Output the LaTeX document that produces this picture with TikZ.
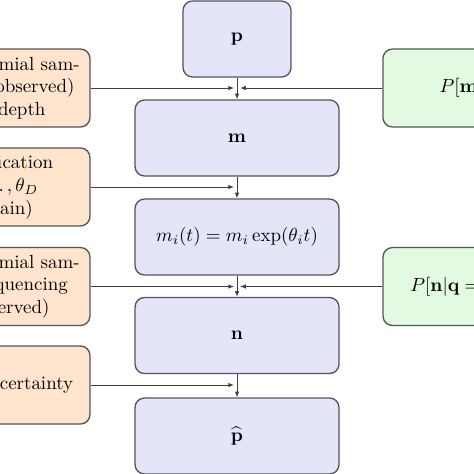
\documentclass[tikz,border=0pt]{standalone}
\usepackage{amsmath}
\usepackage{amssymb}
\usetikzlibrary{calc,arrows.meta}

\definecolor{stepfill}{RGB}{229,229,250}
\definecolor{inputfill}{RGB}{255,229,206}
\definecolor{lawfill}{RGB}{226,250,226}
\definecolor{edgegray}{RGB}{85,85,85}

\tikzset{
  stepbox/.style={draw=edgegray, fill=stepfill, rounded corners=5pt, line width=0.7pt,
    minimum width=3.78cm, minimum height=1.408cm},
  inbox/.style={draw=edgegray, fill=inputfill, rounded corners=5pt, line width=0.7pt,
    minimum width=3.446cm, minimum height=1.445cm, align=center},
  lawbox/.style={draw=edgegray, fill=lawfill, rounded corners=5pt, line width=0.7pt,
    minimum width=3.224cm, minimum height=1.445cm, align=center},
  flow/.style={-{Latex[length=3pt,width=2.4pt]}, draw=black!75, line width=0.5pt}
}

\begin{document}
\begin{tikzpicture}
  \useasboundingbox (0,0) rectangle (8.783,-8.783);
  \clip (0,0) rectangle (8.783,-8.783);

  % main chain
  \node[stepbox, minimum width=2.0cm] (p) at (4.392,-0.723) {$\mathbf{p}$};
  \node[stepbox] (m) at (4.392,-2.557) {$\mathbf{m}$};
  \node[stepbox] (mt) at (4.392,-4.392) {$m_i(t) = m_i \exp(\theta_i t)$};
  \node[stepbox] (n) at (4.392,-6.217) {$\mathbf{n}$};
  \node[stepbox] (ph) at (4.392,-8.079) {$\widehat{\mathbf{p}}$};

  % inputs on the left
  \node[inbox] (l1) at (-0.056,-1.631) {A multinomial sam-\\pling (unobserved)\\given depth};
  \node[inbox] (l2) at (-0.056,-3.465) {Amplification\\$\theta_1,\ldots,\theta_D$\\(certain)};
  \node[inbox] (l3) at (-0.056,-5.309) {A multinomial sam-\\pling, sequencing\\$\mathbf{n}$ (observed)};
  \node[inbox] (l4) at (-0.056,-7.134) {Model uncertainty};

  % laws on the right
  \node[lawbox] (r1) at (8.709,-1.631) {$P[\mathbf{m}|\mathbf{p}]$};
  \node[lawbox] (r2) at (8.709,-5.309) {$P[\mathbf{n}|\mathbf{q} = \mathbf{m}(t)]$};

  % junctions
  \coordinate (j1) at ($(p.south)!0.5!(m.north)$);
  \coordinate (j2) at ($(m.south)!0.5!(mt.north)$);
  \coordinate (j3) at ($(mt.south)!0.5!(n.north)$);
  \coordinate (j4) at ($(n.south)!0.5!(ph.north)$);

  \draw[flow] (p) -- (m);
  \draw[flow] (m) -- (mt);
  \draw[flow] (mt) -- (n);
  \draw[flow] (n) -- (ph);

  \draw[flow] (l1.east) -- ([xshift=-1.6pt]j1 |- l1.east);
  \draw[flow] (r1.west) -- ([xshift=1.6pt]j1 |- r1.west);
  \draw[flow] (l2.east) -- ([xshift=-1.6pt]j2 |- l2.east);
  \draw[flow] (l3.east) -- ([xshift=-1.6pt]j3 |- l3.east);
  \draw[flow] (r2.west) -- ([xshift=1.6pt]j3 |- r2.west);
  \draw[flow] (l4.east) -- ([xshift=-1.6pt]j4 |- l4.east);
\end{tikzpicture}
\end{document}
